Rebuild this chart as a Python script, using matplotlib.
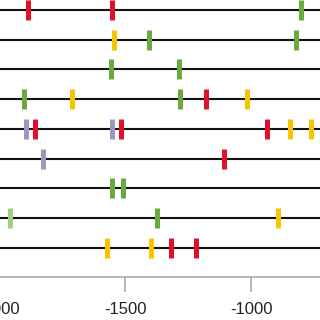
import matplotlib.pyplot as plt

# one list per row (top to bottom): event years and their category
rows_years = [
    [-1885, -1552, -803],
    [-1544, -1406, -821],
    [-1556, -1287],
    [-1901, -1710, -1282, -1177, -1017],
    [-1892, -1858, -1552, -1517, -938, -845, -763],
    [-1827, -1107],
    [-1553, -1509],
    [-1958, -1374, -894],
    [-1570, -1398, -1319, -1219],
]
rows_cats = [
    ['red', 'red', 'green'],
    ['yellow', 'green', 'green'],
    ['green', 'green'],
    ['green', 'yellow', 'green', 'red', 'yellow'],
    ['grey', 'red', 'grey', 'red', 'red', 'yellow', 'yellow'],
    ['grey', 'red'],
    ['green', 'green'],
    ['lightgreen', 'green', 'yellow'],
    ['yellow', 'yellow', 'red', 'red'],
]
xticks = [-2000, -1500, -1000]

colors = {'red': '#e0102a', 'yellow': '#f6c500', 'green': '#6aaa3c',
          'lightgreen': '#9fd080', 'grey': '#9a98bc'}

fig = plt.figure(figsize=(3.2, 3.2), dpi=100)
ax = fig.add_axes([-26.2 / 320, 42.6 / 320, 352.8 / 320, 297.1 / 320])

n = len(rows_years)
for i, (yrs, cats) in enumerate(zip(rows_years, rows_cats)):
    y = n - i
    ax.axhline(y, color='#111111', lw=1.5, zorder=1)
    for x, c in zip(yrs, cats):
        ax.plot(x, y, marker='|', ms=14.5, mew=3.6, color=colors[c], zorder=3)

ax.set_xlim(-2100, -700)
ax.set_ylim(0, 10)
ax.set_yticks([])
ax.set_xticks(xticks)
ax.set_xticklabels([str(t) for t in xticks], fontsize=12, family='Liberation Sans', color='#222222')
for s in ['top', 'left', 'right']:
    ax.spines[s].set_visible(False)
ax.spines['bottom'].set_color('#aaaaaa')
ax.spines['bottom'].set_linewidth(1.2)
ax.tick_params(axis='x', direction='out', length=11, width=1.2, color='#aaaaaa', pad=7)

fig.savefig('out.png', dpi=100)
